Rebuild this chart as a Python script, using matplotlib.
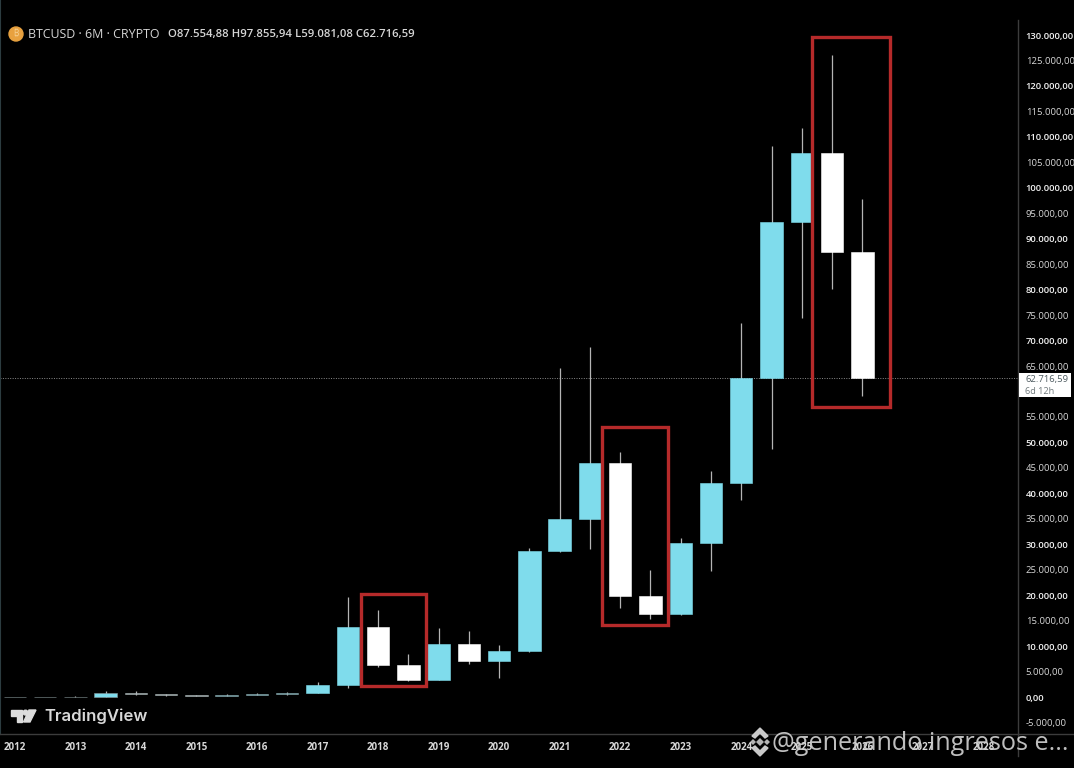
import numpy as np
import matplotlib
matplotlib.use('Agg')
import matplotlib.pyplot as plt
from matplotlib.patches import Rectangle, Circle, Polygon

# half year candles, 2012 H1 up to 2026 H1
opens = [5, 7, 13, 95, 730, 640, 320, 265, 430, 670, 850, 2300, 13750, 6200, 3400, 10500, 7000, 9000,
         28700, 34900, 46000, 19800, 16300, 30300, 42100, 62600, 93200, 106900, 87300]
closes = [7, 13, 95, 730, 640, 320, 265, 430, 670, 850, 2300, 13750, 6200, 3400, 10500, 7000, 9000, 28700,
          34900, 46000, 19800, 16300, 30300, 42100, 62600, 93200, 106900, 87300, 62716]
highs = [8, 14, 260, 1150, 1100, 650, 330, 500, 780, 980, 2950, 19600, 17100, 8400, 13500, 13000, 10300, 29300,
         64600, 68700, 48100, 24900, 31300, 44400, 73500, 108200, 111800, 126000, 97855]
lows = [4, 6, 12, 65, 340, 280, 160, 200, 360, 470, 780, 1850, 5900, 3150, 3300, 6500, 3800, 8900,
        28500, 29000, 17500, 15400, 16200, 24800, 38700, 48800, 74400, 80200, 59081]
year_labels = ['2012', '2013', '2014', '2015', '2016', '2017', '2018', '2019', '2020',
               '2021', '2022', '2023', '2024', '2025', '2026', '2027', '2028']
price_ticks = list(range(-5000, 130001, 5000))
last_price = 62716.59

# highlighted candles: first index, last index, low, high
boxes = [(11.45, 13.6, 2100, 20200),
         (19.4, 21.58, 14100, 53000),
         (26.35, 28.9, 57000, 129600)]

BG = '#000000'
TEAL = '#7fdcec'
RED = '#b52a2a'
W, H = 1074, 768
AXIS_BOTTOM = 734
AXIS_RIGHT = 1018
X0, DX = 14.8, 30.27
Y0, DY = 697.0, 0.005092


def fmtPrice(v):
    s = f'{abs(v):,.2f}'.replace(',', 'X').replace('.', ',').replace('X', '.')
    return ('-' if v < 0 else '') + s


plt.rcParams['font.family'] = ['Open Sans', 'DejaVu Sans']
fig = plt.figure(figsize=(W / 100, H / 100), dpi=100, facecolor=BG)
ax = fig.add_axes([0, 1 - AXIS_BOTTOM / H, AXIS_RIGHT / W, AXIS_BOTTOM / H], facecolor=BG)
ax.set_xlim(-X0 / DX, (AXIS_RIGHT - X0) / DX)
ax.set_ylim((Y0 - AXIS_BOTTOM) / DY, Y0 / DY)

# candles
for i in range(len(opens)):
    up = closes[i] >= opens[i]
    col = TEAL if up else '#ffffff'
    ax.plot([i, i], [lows[i], highs[i]], color='#b4b4b4', lw=0.9, zorder=2, solid_capstyle='butt')
    ax.bar(i, abs(closes[i] - opens[i]), bottom=min(opens[i], closes[i]), width=0.74,
           color=col, edgecolor=col if i > 9 else '#8a9a9c', linewidth=0.4, zorder=3)

ax.axhline(last_price, color='#8a8a8a', lw=0.7, ls=(0, (1, 1.5)), zorder=1)

# red boxes round the white candles
for x0, x1, y0, y1 in boxes:
    ax.add_patch(Rectangle((x0, y0), x1 - x0, y1 - y0, fill=False, edgecolor=RED, lw=2.4, zorder=5))

ax.set_xticks(np.arange(len(year_labels)) * 2)
ax.set_xticklabels(year_labels, fontsize=7, fontweight='bold', color='#d8d8d8')
ax.tick_params(axis='x', length=0, pad=5.5)
ax.yaxis.tick_right()
shown = [p for p in price_ticks if p != 60000]
ax.set_yticks(shown)
ax.set_yticklabels([fmtPrice(p) for p in shown], fontsize=6.8, color='#d8d8d8')
for p, lab in zip(shown, ax.get_yticklabels()):
    if p % 10000 == 0:
        lab.set_fontweight('semibold')
        lab.set_color('#f0f0f0')
ax.tick_params(axis='y', length=0, pad=5.5)
for name in ['top', 'bottom', 'right']:
    ax.spines[name].set_visible(False)
ax.spines['left'].set_color('#2c3c40')

# overlay in pixel space for header, logos, price box and watermark
ov = fig.add_axes([0, 0, 1, 1], facecolor='none')
ov.set_xlim(0, W)
ov.set_ylim(H, 0)
ov.axis('off')

ov.plot([0, W], [AXIS_BOTTOM, AXIS_BOTTOM], color='#3c3c3c', lw=1)
ov.plot([AXIS_RIGHT, AXIS_RIGHT], [20, 756], color='#3c3c3c', lw=1)

ov.add_patch(Circle((16, 34), 7, color='#e8a13f', zorder=3))
ov.text(16, 34, '₿', color='#f6cf90', fontsize=6, ha='center', va='center', zorder=4,
        family=['Inter', 'Roboto', 'Noto Sans', 'DejaVu Sans'])
ov.text(27.5, 34.5, 'BTCUSD · 6M · CRYPTO', color='#d6d6d6', fontsize=8.9, va='center')
ov.text(168, 34.5, 'O87.554,88 H97.855,94 L59.081,08 C62.716,59', color='#d6d6d6',
        fontsize=8.2, va='center', fontweight='semibold')

# price label
ov.add_patch(Rectangle((1019, 373), 52, 24, facecolor='#ffffff', edgecolor='none', zorder=3))
ov.text(1025, 379.5, fmtPrice(last_price), color='#4e5b60', fontsize=6.8, va='center', zorder=4)
ov.text(1025, 391, '6d 12h', color='#70797c', fontsize=6.6, va='center', zorder=4)

# TradingView mark
ov.add_patch(Polygon([(11, 710), (22, 710), (22, 722), (16.5, 722), (16.5, 715.5), (11, 715.5)], color='#dcdcdc'))
ov.add_patch(Circle((25.5, 712.6), 2.4, color='#dcdcdc'))
ov.add_patch(Polygon([(29, 710), (36, 710), (30, 722), (23.5, 722)], color='#dcdcdc'))
ov.text(44, 716, 'TradingView', color='#d8d8d8', fontsize=12, fontweight='semibold', va='center',
        family=['Inter', 'DejaVu Sans'])

# Binance style watermark
wm = '#c9c9c9'
for px, py, s in [(753, 742, 3), (767, 742, 3), (760, 742, 4)]:
    ov.add_patch(Polygon([(px - s, py), (px, py - s), (px + s, py), (px, py + s)], facecolor=wm,
                         edgecolor='none', alpha=0.9, zorder=6))
ov.add_patch(Polygon([(752, 736), (760, 728), (768, 736), (765, 738), (760, 733), (755, 738)], color=wm, zorder=6))
ov.add_patch(Polygon([(752, 748), (760, 756), (768, 748), (765, 746), (760, 751), (755, 746)], color=wm, zorder=6))
ov.text(772, 743, '@generando ingresos e...', color='#d0d0d0', alpha=0.92, fontsize=18.2, va='center',
        zorder=6, family=['Open Sans', 'DejaVu Sans'])

fig.savefig('out.png', dpi=100, facecolor=BG)
